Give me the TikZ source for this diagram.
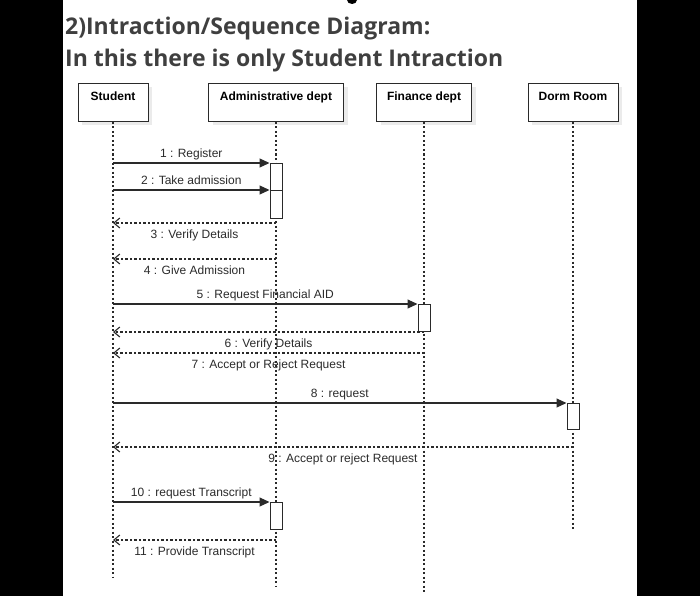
\documentclass[tikz,border=0pt]{standalone}
\usepackage{fontspec}
\setmainfont{Liberation Sans}
\newfontfamily\headfont{Open Sans}
\usetikzlibrary{arrows.meta,shadows}

\definecolor{ink}{HTML}{2A2A2A}
\definecolor{headgray}{HTML}{3F3F3F}

\tikzset{
  heading/.style={anchor=base west, inner sep=0pt, text=headgray,
    font=\headfont\bfseries\fontsize{23}{27}\selectfont},
  obj/.style={draw=ink, fill=white, anchor=north, line width=1pt, inner sep=3pt,
    text height=14pt, text depth=18pt, font=\bfseries\fontsize{12}{14}\selectfont,
    drop shadow={shadow xshift=4pt, shadow yshift=-4pt, fill=black!8, opacity=1}},
  life/.style={draw=ink, line width=1.2pt, dash pattern=on 2pt off 2.5pt},
  act/.style={draw=ink, fill=white, line width=1pt, anchor=north,
    minimum width=12pt, inner sep=0pt},
  call/.style={draw=ink, line width=1.1pt, -{Triangle[length=10pt,width=9pt]}},
  reply/.style={draw=ink, line width=1.1pt, dash pattern=on 2.5pt off 2pt,
    -{Straight Barb[length=6pt,width=10pt]}},
  msg/.style={text=ink, font=\fontsize{12}{14}\selectfont, inner sep=2pt,
    text height=9pt, text depth=2.5pt}
}

\begin{document}
\begin{tikzpicture}[x=1pt,y=-1pt]
	\useasboundingbox (0,0) rectangle (700,596);
	% screenshot frame
	\fill[black] (0,0) rectangle (63,596);
	\fill[black] (637,0) rectangle (700,596);
	\fill[black] (352,0) ellipse (5pt and 4pt);

	\node[heading] (head1) at (65,35) {2)Intraction/Sequence Diagram:};
	\node[heading] (head2) at (65,67) {In this there is only Student Intraction};

	% objects
	\node[obj, minimum width=70pt] (student) at (113,83) {Student};
	\node[obj, minimum width=135pt] (admin) at (276,83) {Administrative dept};
	\node[obj, minimum width=95pt] (finance) at (424,83) {Finance dept};
	\node[obj, minimum width=90pt] (dorm) at (573,83) {Dorm Room};

	% lifelines
	\foreach \who/\len in {student/456, admin/464, finance/471, dorm/409}{
		\path (\who.south) ++(0,\len) coordinate (\who-end);
		\draw[life] (\who.south) -- (\who-end);
	}

	% activations
	\node[act, minimum height=27pt] (actA1) at (276,163) {};
	\node[act, minimum height=28pt] (actA2) at (276,190) {};
	\node[act, minimum height=27pt] (actF) at (424,304) {};
	\node[act, minimum height=26pt] (actD) at (573,403) {};
	\node[act, minimum height=27pt] (actA3) at (276,502) {};

	% reply starts
	\path (276,223) coordinate (a3)
	(276,259) coordinate (a4)
	(424,332) coordinate (f6)
	(424,353) coordinate (f7)
	(573,447) coordinate (d9)
	(276,540) coordinate (a11);

	% messages
	\draw[call] (student |- actA1.north west) -- node[msg,above] {1 : Register} (actA1.north west);
	\draw[call] (student |- actA2.north west) -- node[msg,above] {2 : Take admission} (actA2.north west);
	\draw[reply] (a3) -- node[msg,below=4pt] {3 : Verify Details} (student |- a3);
	\draw[reply] (a4) -- node[msg,below=4pt] {4 : Give Admission} (student |- a4);
	\draw[call] (student |- actF.north west) -- node[msg,above] {5 : Request Financial AID} (actF.north west);
	\draw[reply] (f6) -- node[msg,below=4pt] {6 : Verify Details} (student |- f6);
	\draw[reply] (f7) -- node[msg,below=4pt] {7 : Accept or Reject Request} (student |- f7);
	\draw[call] (student |- actD.north west) -- node[msg,above] {8 : request} (actD.north west);
	\draw[reply] (d9) -- node[msg,below=4pt] {9 : Accept or reject Request} (student |- d9);
	\draw[call] (student |- actA3.north west) -- node[msg,above] {10 : request Transcript} (actA3.north west);
	\draw[reply] (a11) -- node[msg,below=4pt] {11 : Provide Transcript} (student |- a11);
\end{tikzpicture}
\end{document}
